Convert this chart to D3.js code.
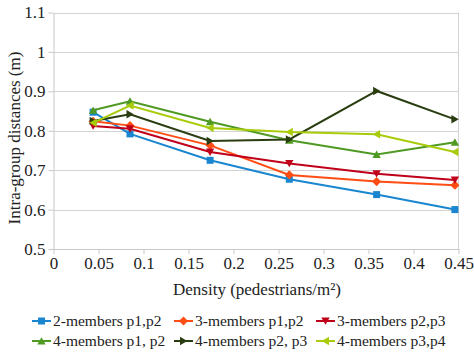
<!DOCTYPE html>
<html><head><meta charset="utf-8">
<script src="https://cdn.jsdelivr.net/npm/d3@7"></script>
<style>body{margin:0;background:#fff}svg{display:block}</style>
</head><body>
<svg id="c" width="474" height="355"></svg>
<script>
const density = [0.044, 0.085, 0.174, 0.262, 0.359, 0.446];
const twoP1P2 = [0.847, 0.792, 0.725, 0.677, 0.638, 0.600];
const threeP1P2 = [0.824, 0.813, 0.763, 0.688, 0.671, 0.662];
const threeP2P3 = [0.812, 0.805, 0.746, 0.717, 0.691, 0.675];
const fourP1P2 = [0.852, 0.875, 0.823, 0.776, 0.740, 0.771];
const fourP2P3 = [0.825, 0.842, 0.774, 0.778, 0.901, 0.829];
const fourP3P4 = [0.820, 0.864, 0.807, 0.797, 0.791, 0.746];
const seriesNames = ["2-members p1,p2","3-members p1,p2","3-members p2,p3","4-members p1, p2","4-members p2, p3","4-members p3,p4"];
const xTicks = [0,0.05,0.1,0.15,0.2,0.25,0.3,0.35,0.4,0.45];
const yTicks = [0.5,0.6,0.7,0.8,0.9,1,1.1];

const series = [
  {name:seriesNames[0], values:twoP1P2, color:"#1a86d0", sym:"square"},
  {name:seriesNames[1], values:threeP1P2, color:"#ff4d14", sym:"diamond"},
  {name:seriesNames[2], values:threeP2P3, color:"#c0001a", sym:"down"},
  {name:seriesNames[3], values:fourP1P2, color:"#4f9a22", sym:"up"},
  {name:seriesNames[4], values:fourP2P3, color:"#2a3d10", sym:"right"},
  {name:seriesNames[5], values:fourP3P4, color:"#a8cc0a", sym:"left"}
];

const svg = d3.select("#c");
const font = "'Liberation Serif', 'Times New Roman', serif";
const L=53.5, R=458.5, T=12.5, B=249;
const x = d3.scaleLinear().domain([0,0.45]).range([L,R]);
const y = d3.scaleLinear().domain([0.5,1.1]).range([B,T]);

// grid
svg.append("g").selectAll("line").data(yTicks).join("line")
  .attr("x1",L).attr("x2",R).attr("y1",d=>Math.round(y(d))+0.5).attr("y2",d=>Math.round(y(d))+0.5)
  .attr("stroke","#d4d4d4").attr("stroke-width",1);
svg.append("line").attr("x1",R).attr("x2",R).attr("y1",T).attr("y2",B).attr("stroke","#d4d4d4");

// axes
const xa = svg.append("g").attr("transform",`translate(0,${B})`)
  .call(d3.axisBottom(x).tickValues(xTicks).tickFormat(d=>String(+d.toFixed(2))).tickSize(5).tickSizeOuter(0));
const ya = svg.append("g").attr("transform",`translate(${L},0)`)
  .call(d3.axisLeft(y).tickValues(yTicks).tickFormat(d=>String(+d.toFixed(1))).tickSize(5).tickSizeOuter(0));
[xa,ya].forEach(a=>{
  a.select(".domain").attr("stroke","#c8c8c8");
  a.selectAll(".tick line").attr("stroke","#c8c8c8");
  a.selectAll("text").attr("font-family",font).attr("font-size",17).attr("fill","#222");
});

svg.append("text").attr("x",257).attr("y",295).attr("text-anchor","middle")
  .attr("font-family",font).attr("font-size",17).attr("fill","#222").text("Density (pedestrians/m²)");
svg.append("text").attr("transform",`translate(19.5,138) rotate(-90)`).attr("text-anchor","middle")
  .attr("font-family",font).attr("font-size",17).attr("fill","#222").text("Intra-group distances (m)");

function symPath(sym, s){
  switch(sym){
    case "square": return `M${-s},${-s}H${s}V${s}H${-s}Z`;
    case "diamond": return `M0,${-s*1.3}L${s*1.3},0L0,${s*1.3}L${-s*1.3},0Z`;
    case "down": return `M${-s*1.2},${-s}L${s*1.2},${-s}L0,${s*1.1}Z`;
    case "up": return `M${-s*1.2},${s}L${s*1.2},${s}L0,${-s*1.1}Z`;
    case "right": return `M${-s},${-s*1.2}L${-s},${s*1.2}L${s*1.1},0Z`;
    case "left": return `M${s},${-s*1.2}L${s},${s*1.2}L${-s*1.1},0Z`;
  }
}

const line = d3.line().x((d,i)=>x(density[i])).y(d=>y(d));
series.forEach(s=>{
  svg.append("path").datum(s.values).attr("d",line).attr("fill","none")
    .attr("stroke",s.color).attr("stroke-width",2);
  svg.append("g").selectAll("path").data(s.values).join("path")
    .attr("transform",(d,i)=>`translate(${x(density[i])},${y(d)})`)
    .attr("d",symPath(s.sym,3.5)).attr("fill",s.color);
});

// legend
const legX=[32,174,316], legY=[321,341];
series.forEach((s,i)=>{
  const lx=legX[i%3], ly=legY[Math.floor(i/3)];
  const g=svg.append("g").attr("transform",`translate(${lx},${ly})`);
  g.append("line").attr("x1",0).attr("x2",19).attr("stroke",s.color).attr("stroke-width",2);
  g.append("path").attr("transform","translate(9.5,0)").attr("d",symPath(s.sym,3.5)).attr("fill",s.color);
  g.append("text").attr("x",21).attr("dy","0.35em").attr("font-family",font).attr("font-size",15.5)
    .attr("fill","#222").text(s.name);
});
</script>
</body></html>
